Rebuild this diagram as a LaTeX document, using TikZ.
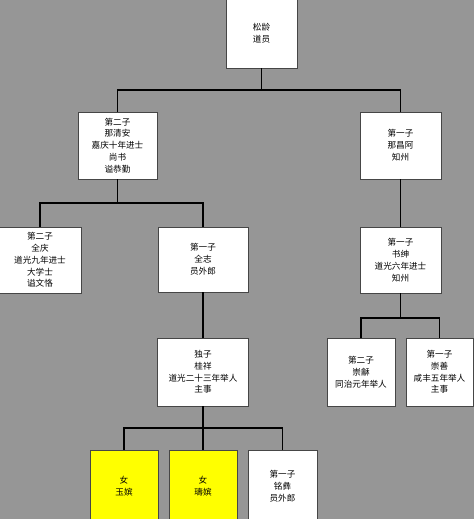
\documentclass[tikz,border=0pt]{standalone}
\usepackage{fontspec}
\newfontfamily\cjk{Noto Sans CJK SC}
\usepackage{tikz}
\usetikzlibrary{positioning,calc}
\definecolor{bggray}{RGB}{150,150,150}
\definecolor{boxline}{RGB}{70,70,70}
\definecolor{daughter}{RGB}{255,255,0}

\begin{document}
\begin{tikzpicture}[
    x=1pt, y=-1pt,
    person/.style={rectangle, draw=boxline, line width=0.9pt, fill=white, align=center, inner sep=0pt, font=\cjk\fontsize{8.6}{11.8}\selectfont},
    girl/.style={person, fill=daughter},
    link/.style={draw=black, line width=1.3pt}
]
    \useasboundingbox (0,0) rectangle (474,519);
    \clip (0,0) rectangle (474,519);
    \fill[bggray] (0,0) rectangle (474,519);

    \node[person, minimum width=71pt, minimum height=70pt] (songling) at (261.5,33) {松龄\\道员};

    \node[person, minimum width=79pt, minimum height=67pt] (naqingan) at (117.5,145.5) {第二子\\那清安\\嘉庆十年进士\\尚书\\谥恭勤};
    \node[person, minimum width=81pt, minimum height=67pt] (nachanga) at (400.5,145.5) {第一子\\那昌阿\\知州};

    \node[person, minimum width=82pt, minimum height=66pt] (quanqing) at (40,260) {第二子\\全庆\\道光九年进士\\大学士\\谥文恪};
    \node[person, minimum width=90pt, minimum height=65pt] (quanzhi) at (203,259.5) {第一子\\全志\\员外郎};
    \node[person, minimum width=81pt, minimum height=66pt] (shushen) at (400.5,260) {第一子\\书绅\\道光六年进士\\知州};

    \node[person, minimum width=91pt, minimum height=68pt] (guixiang) at (203,372) {独子\\桂祥\\道光二十三年举人\\主事};
    \node[person, minimum width=68pt, minimum height=68pt] (chonghe) at (361,372) {第二子\\崇龢\\同治元年举人};
    \node[person, minimum width=67pt, minimum height=68pt] (chongshan) at (439.5,372) {第一子\\崇善\\咸丰五年举人\\主事};

    \node[girl, minimum width=68pt, minimum height=72pt] (yupin) at (124,486) {女\\玉嫔};
    \node[girl, minimum width=68pt, minimum height=72pt] (shupin) at (203,486) {女\\璹嫔};
    \node[person, minimum width=69pt, minimum height=72pt] (mingyi) at (282.5,486) {第一子\\铭彝\\员外郎};

    % bus lines
    \coordinate (bus1) at (0,90);
    \coordinate (bus2) at (0,203);
    \coordinate (bus3) at (0,318);
    \coordinate (bus4) at (0,428);

    \draw[link] (songling.south) -- (songling.south |- bus1);
    \draw[link] (naqingan.north) |- (nachanga.north |- bus1) -- (nachanga.north);

    \draw[link] (naqingan.south) -- (naqingan.south |- bus2);
    \draw[link] (quanqing.north) |- (quanzhi.north |- bus2) -- (quanzhi.north);
    \draw[link] (nachanga.south) -- (shushen.north);

    \draw[link] (quanzhi.south) -- (guixiang.north);
    \draw[link] (shushen.south) -- (shushen.south |- bus3);
    \draw[link] (chonghe.north) |- (chongshan.north |- bus3) -- (chongshan.north);

    \draw[link] (guixiang.south) -- (guixiang.south |- bus4);
    \draw[link] (yupin.north) |- (mingyi.north |- bus4) -- (mingyi.north);
    \draw[link] (shupin.north) -- (shupin.north |- bus4);
\end{tikzpicture}
\end{document}
